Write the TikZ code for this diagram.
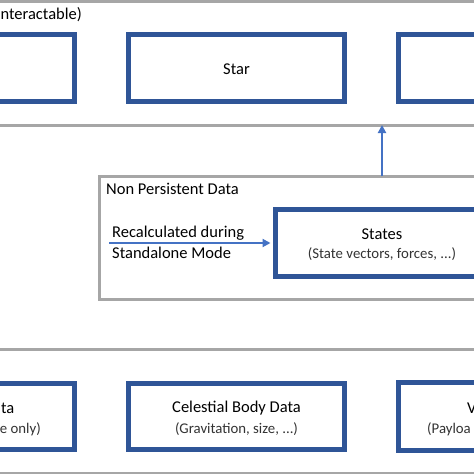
\documentclass[tikz,border=0pt]{standalone}
\usepackage{fontspec}
\setmainfont{Carlito}
\usetikzlibrary{arrows.meta}
\definecolor{boxblue}{HTML}{2F5597}
\definecolor{arrowblue}{HTML}{4472C4}
\definecolor{framegray}{HTML}{A6A6A6}
\begin{document}
\begin{tikzpicture}[x=1pt,y=-1pt,
  bluebox/.style={draw=boxblue,line width=5pt,minimum width=216pt,minimum height=67pt,inner sep=0pt,outer sep=0pt},
  grayframe/.style={draw=framegray,line width=3pt,inner sep=0pt,outer sep=0pt},
  maintext/.style={font=\fontsize{16.5}{20}\selectfont,inner sep=0pt},
  subtext/.style={font=\fontsize{14.8}{18}\selectfont,inner sep=0pt,text=black!80},
  flow/.style={draw=arrowblue,line width=2pt,-{Triangle[length=8pt,width=8pt]}}]
\useasboundingbox (0,0) rectangle (474,474);
\clip (0,0) rectangle (474,474);
\fill[white] (0,0) rectangle (474,474);

% frames
\node[grayframe,minimum width=594pt,minimum height=124pt] (inter) at (237,63) {};
\node[grayframe,minimum width=565pt,minimum height=123pt] (npd) at (382,237.5) {};
\node[grayframe,minimum width=594pt,minimum height=124pt] (persist) at (237,411.5) {};

% top row boxes
\node[bluebox] (tl) at (-33.5,68) {};
\node[bluebox] (star) at (236.5,68) {};
\node[bluebox] (tr) at (506.5,68) {};

% states box
\node[bluebox,minimum width=213pt] (states) at (382,243) {};

% bottom row boxes
\node[bluebox,minimum height=66pt] (bl) at (-33.5,416) {};
\node[bluebox,minimum height=66pt] (celestial) at (236.5,416.5) {};
\node[bluebox,minimum height=68pt] (br) at (506.5,416.5) {};

% texts
\node[maintext,anchor=east] (intertitle) at (82,15) {nteractable)};
\node[maintext] (startext) at (236.5,69.5) {Star};
\node[maintext,anchor=west] (npdtitle) at (106,189) {Non Persistent Data};
\node[maintext,anchor=west] (rec1) at (112,233) {Recalculated during};
\node[maintext,anchor=west] (rec2) at (112,253) {Standalone Mode};
\node[maintext] (statestext) at (382,234) {States};
\node[subtext] (statessub) at (382,254) {(State vectors, forces, ...)};
\node[maintext,anchor=east] (bltext) at (14.5,408) {ta};
\node[subtext,anchor=east] (blsub) at (41,429) {e only)};
\node[maintext] (celtext) at (236.5,408) {Celestial Body Data};
\node[subtext] (celsub) at (236.5,429) {(Gravitation, size, ...)};
\node[maintext,anchor=west] (brtext) at (467,408) {V};
\node[subtext,anchor=west] (brsub) at (427,429) {(Payloa};

% connectors
\coordinate (recstart) at (109,243);
\draw[flow] (recstart) -- ([xshift=-5pt]states.west);
\draw[flow] (npd.north) -- (npd.north |- inter.south);
\end{tikzpicture}
\end{document}
